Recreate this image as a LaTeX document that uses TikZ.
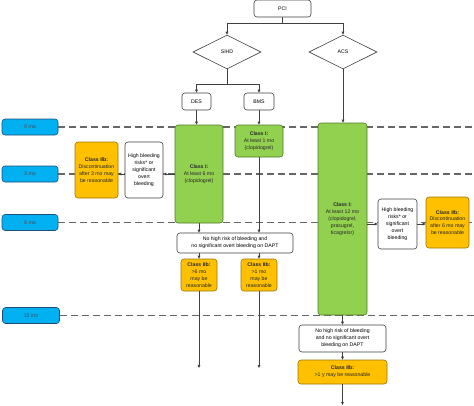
\documentclass[tikz,border=0pt]{standalone}
\usepackage{fontspec}
\setmainfont{Liberation Sans}
\usetikzlibrary{shapes.geometric,arrows.meta,backgrounds}
\definecolor{gfill}{HTML}{92D050}
\definecolor{gline}{HTML}{4F7A28}
\definecolor{ofill}{HTML}{FFC000}
\definecolor{oline}{HTML}{9C7400}
\definecolor{bfill}{HTML}{00B0F0}
\definecolor{bline}{HTML}{1F4E79}
\definecolor{conn}{HTML}{404040}
\begin{document}
\begin{tikzpicture}[x=1pt,y=-1pt,
  every node/.style={font=\fontsize{5.2}{6.9}\selectfont, align=center, inner sep=0pt},
  wbox/.style={draw=conn, fill=white, rounded corners=3pt, line width=0.6pt},
  gbox/.style={draw=gline, fill=gfill, rounded corners=3pt, line width=0.6pt, text=black!85},
  obox/.style={draw=oline, fill=ofill, rounded corners=3pt, line width=0.6pt, text=black!85},
  tbox/.style={draw=bline, fill=bfill, rounded corners=3pt, line width=0.6pt, text=black!70, minimum width=56pt, minimum height=16pt},
  dia/.style={draw=conn, fill=white, diamond, line width=0.6pt, minimum width=68pt, minimum height=34pt, aspect=2},
  arr/.style={draw=conn, line width=0.7pt, -{Triangle[length=3pt,width=2.6pt]}},
  ln/.style={draw=conn, line width=0.7pt},
  tl/.style={draw=black!60, line width=1.2pt, dash pattern=on 7pt off 4pt}]
\useasboundingbox (0,0) rectangle (474,405);
% nodes
\node[wbox, minimum width=57pt, minimum height=17pt] (pci) at (282.5,8.5) {PCI};
\node[dia] (sihd) at (227,52) {SIHD};
\node[dia] (acs) at (343,52) {ACS};
\node[wbox, minimum width=29pt, minimum height=17pt] (des) at (196.5,101.5) {DES};
\node[wbox, minimum width=30pt, minimum height=17pt] (bms) at (259,101.5) {BMS};
\node[tbox] (t0) at (30,127) {0 mo};
\node[tbox] (t3) at (30,174) {3 mo};
\node[tbox] (t6) at (30,222.5) {6 mo};
\node[tbox, minimum width=57pt] (t12) at (31,315.5) {12 mo};
\node[gbox, minimum width=48pt, minimum height=98pt] (gdes) at (199,174) {\textbf{Class I:}\\At least 6 mo\\(clopidogrel)};
\node[gbox, minimum width=48pt, minimum height=32pt] (gbms) at (259,141) {\textbf{Class I:}\\At least 1 mo\\(clopidogrel)};
\node[wbox, minimum width=38pt, minimum height=56pt] (hbl) at (144,170) {High bleeding\\risks* or\\significant\\overt\\bleeding};
\node[obox, minimum width=43pt, minimum height=56pt] (olf) at (96.5,170) {\textbf{Class IIb:}\\Discontinuation\\after 3 mo may\\be reasonable};
\node[wbox, minimum width=116pt, minimum height=20pt] (nhr1) at (235,243) {No high risk of bleeding and\\no significant overt bleeding on DAPT};
\node[obox, minimum width=36pt, minimum height=32pt] (o6) at (199,275) {\textbf{Class IIb:}\\>6 mo\\may be\\reasonable};
\node[obox, minimum width=36pt, minimum height=32pt] (o1) at (259,275) {\textbf{Class IIb:}\\>1 mo\\may be\\reasonable};
\node[gbox, minimum width=49pt, minimum height=192pt] (gacs) at (342.5,219) {\textbf{Class I:}\\At least 12 mo\\(clopidogrel,\\prasugrel,\\ticagrelor)};
\node[wbox, minimum width=39pt, minimum height=50pt] (hbr) at (397.5,224) {High bleeding\\risks* or\\significant\\overt\\bleeding};
\node[obox, minimum width=43pt, minimum height=51pt] (orr) at (447.5,222.5) {\textbf{Class IIb:}\\Discontinuation\\after 6 mo may\\be reasonable};
\node[wbox, minimum width=87pt, minimum height=27pt] (nhr2) at (342.5,338.5) {No high risk of bleeding\\and no significant overt\\bleeding on DAPT};
\node[obox, minimum width=89pt, minimum height=24pt] (o1y) at (342.5,372) {\textbf{Class IIb:}\\>1 y may be reasonable};
% free ends
\coordinate (j1) at (282.5,23);
\coordinate (j2) at (227,84);
\coordinate (e1) at (199,368);
\coordinate (e2) at (259,368);
\coordinate (e3) at (342.5,405);
\coordinate (r0) at (474,127);
\coordinate (r3) at (474,174);
\coordinate (r6) at (474,222.5);
\coordinate (r12) at (474,315.5);
% time lines
\begin{scope}[on background layer]
\draw[tl] (t0.east) -- (r0);
\draw[tl] (t3.east) -- (r3);
\draw[tl] (t6.east) -- (r6);
\draw[tl] (t12.east) -- (r12);
\end{scope}
% connectors
\draw[ln] (pci) -- (j1);
\draw[arr] (j1) -| (sihd.north);
\draw[arr] (j1) -| (acs.north);
\draw[ln] (sihd) -- (j2);
\draw[arr] (j2) -| (des.north);
\draw[arr] (j2) -| (bms.north);
\draw[arr] (des.south) -- (des.south |- gdes.north);
\draw[arr] (bms) -- (gbms);
\draw[arr] (acs) -- (acs.south |- gacs.north);
\draw[arr] (gdes.west) -- (gdes.west -| hbl.east);
\draw[arr] (hbl.west |- gdes.west) -- (olf.east |- gdes.west);
\draw[arr] (gdes) -- (gdes.south |- nhr1.north);
\draw[arr] (gbms) -- (gbms.south |- nhr1.north);
\draw[arr] (o6.north |- nhr1.south) -- (o6.north);
\draw[arr] (o1.north |- nhr1.south) -- (o1.north);
\draw[arr] (o6) -- (e1);
\draw[arr] (o1) -- (e2);
\draw[arr] (hbr.west -| gacs.east) -- (hbr.west);
\draw[arr] (hbr.east) -- (hbr.east -| orr.west);
\draw[arr] (gacs) -- (nhr2);
\draw[arr] (nhr2) -- (o1y);
\draw[arr] (o1y) -- (e3);
\end{tikzpicture}
\end{document}
